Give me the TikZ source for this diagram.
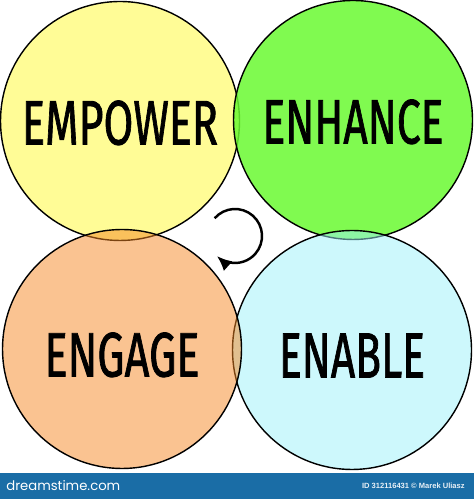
\documentclass[tikz,border=0pt]{standalone}
\usepackage{fontspec}
\usepackage{graphicx}
\usepackage{tikz}
\usetikzlibrary{arrows.meta}
\newfontfamily\wordfont[FakeBold=1.5]{Fira Sans}
\newfontfamily\bannerfont{Poppins}
\newfontfamily\idfont{Liberation Sans}
\definecolor{pastelyellow}{RGB}{255,249,45}
\definecolor{limegreen}{RGB}{106,249,49}
\definecolor{skycyan}{RGB}{155,241,249}
\definecolor{peach}{RGB}{245,135,35}
\definecolor{bannerblue}{RGB}{26,109,166}
% word set to a given width, cap height 0.88cm
\newcommand{\word}[3][0.88cm]{\raisebox{0pt}[#1][0pt]{\resizebox{#2}{0.88cm}{\wordfont #3}}}

\begin{document}
\begin{tikzpicture}[x=0.02cm,y=0.02cm]
    \tikzstyle{bubble}=[circle,draw=black,line width=0.8pt,inner sep=0pt,minimum size=4.78cm,fill opacity=0.5,text opacity=1]
    \tikzstyle{turn}=[line width=1.4pt,-{Latex[length=3mm,width=2.6mm]}]
    \useasboundingbox (0,0) rectangle (474,499);
    \node [bubble,fill=pastelyellow] (empower) at (120,378) {\word[0.94cm]{3.92cm}{EMPOWER}};
    \node [bubble,fill=limegreen,fill opacity=0.85] (enhance) at (353,379) {\word[0.94cm]{3.62cm}{ENHANCE}};
    \node [bubble,fill=skycyan] (enable) at (352,149) {\word[1.1cm]{2.92cm}{ENABLE}};
    \node [bubble,fill=peach] (engage) at (122,150) {\word[1.1cm]{3.1cm}{ENGAGE}};
    \coordinate (cyc) at (235,263);
    \draw [turn] ([shift={(139:27)}]cyc) arc [start angle=139,end angle=-132,radius=27];
    \fill [bannerblue] (0,0) rectangle (474,26);
    \node [anchor=west,inner sep=0pt,text=white,font=\bannerfont\fontsize{7.5}{8}\selectfont] (site) at (6,13) {dreamstime.com};
    \node [anchor=east,inner sep=0pt,text=white!90!bannerblue,font=\idfont\bfseries\fontsize{4.3}{5}\selectfont] (credit) at (465,13) {ID 312116431 \textcopyright{} Marek Uliasz};
\end{tikzpicture}
\end{document}
